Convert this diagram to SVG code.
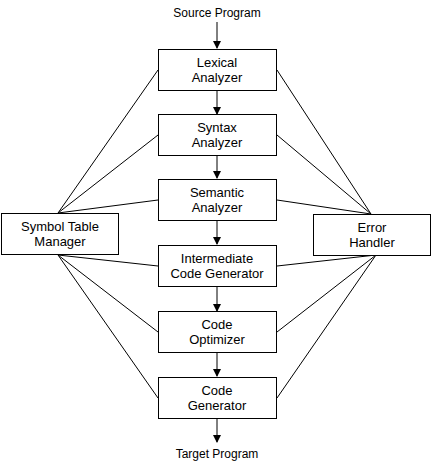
<svg xmlns="http://www.w3.org/2000/svg" width="433" height="466" viewBox="0 0 433 466">
<style>
rect{fill:#fff;stroke:#000;stroke-width:1}
text{font-family:"Liberation Sans",Arial,sans-serif;font-size:13px;fill:#000;text-anchor:middle}
text.io{font-size:12px}
.c line{stroke:#000;stroke-width:1}
</style>
<defs>
<marker id="ah" markerWidth="8" markerHeight="8" refX="7" refY="4" orient="auto" markerUnits="userSpaceOnUse">
<path d="M0,0 L8,4 L0,8 z" fill="#000"/>
</marker>
</defs>
<rect x="0" y="0" width="433" height="466" style="stroke:none"/>
<g class="c" id="connectors">
<line x1="217" y1="22" x2="217" y2="48" marker-end="url(#ah)"/>
<line x1="217" y1="90" x2="217" y2="114" marker-end="url(#ah)"/>
<line x1="217" y1="155" x2="217" y2="178" marker-end="url(#ah)"/>
<line x1="217" y1="221" x2="217" y2="244" marker-end="url(#ah)"/>
<line x1="217" y1="286" x2="217" y2="311" marker-end="url(#ah)"/>
<line x1="217" y1="352" x2="217" y2="376" marker-end="url(#ah)"/>
<line x1="217" y1="418" x2="217" y2="442" marker-end="url(#ah)"/>
<line x1="58" y1="213" x2="158" y2="70"/>
<line x1="58" y1="213" x2="158" y2="135"/>
<line x1="58" y1="213" x2="158" y2="200"/>
<line x1="58" y1="255" x2="158" y2="266"/>
<line x1="58" y1="255" x2="158" y2="332"/>
<line x1="58" y1="255" x2="158" y2="398"/>
<line x1="371" y1="214" x2="277" y2="70"/>
<line x1="371" y1="214" x2="277" y2="135"/>
<line x1="371" y1="214" x2="277" y2="200"/>
<line x1="376" y1="255" x2="277" y2="266"/>
<line x1="376" y1="255" x2="277" y2="332"/>
<line x1="376" y1="255" x2="277" y2="398"/>
</g>
<g id="source"><text class="io" x="217" y="17">Source Program</text></g>
<g id="lexical"><rect x="158.5" y="49.5" width="118" height="41"/><text x="217" y="67">Lexical</text><text x="217" y="82">Analyzer</text></g>
<g id="syntax"><rect x="158.5" y="114.5" width="118" height="41"/><text x="217" y="132">Syntax</text><text x="217" y="147">Analyzer</text></g>
<g id="semantic"><rect x="158.5" y="179.5" width="118" height="41"/><text x="217" y="197">Semantic</text><text x="217" y="212">Analyzer</text></g>
<g id="intermediate"><rect x="158.5" y="245.5" width="118" height="41"/><text x="217" y="263">Intermediate</text><text x="217" y="278">Code Generator</text></g>
<g id="optimizer"><rect x="158.5" y="311.5" width="118" height="41"/><text x="217" y="329">Code</text><text x="217" y="344">Optimizer</text></g>
<g id="generator"><rect x="158.5" y="377.5" width="118" height="41"/><text x="217" y="395">Code</text><text x="217" y="410">Generator</text></g>
<g id="target"><text class="io" x="217" y="458">Target Program</text></g>
<g id="symtab"><rect x="1.5" y="213.5" width="117" height="41"/><text x="60" y="231">Symbol Table</text><text x="60" y="246">Manager</text></g>
<g id="error"><rect x="313.5" y="214.5" width="117" height="41"/><text x="372" y="232">Error</text><text x="372" y="247">Handler</text></g>
</svg>
